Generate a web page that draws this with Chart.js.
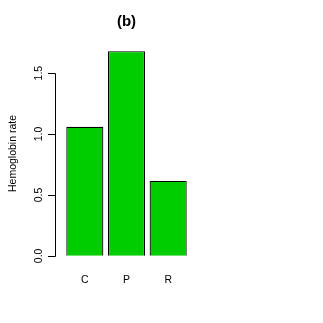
<!DOCTYPE html>
<html>
<head>
    <title>Hemoglobin rate (b)</title>
    <script src="https://cdn.jsdelivr.net/npm/chart.js@4/dist/chart.umd.min.js"></script>
    <style>
        html, body { margin: 0; padding: 0; background: #fff; }
        #wrap { width: 323px; height: 323px; }
    </style>
</head>
<body>
    <div id="wrap"><canvas id="hbChart" width="323" height="323"></canvas></div>

    <script>
        const groups = ['C', 'P', 'R'];
        const hbRate = [1.06, 1.68, 0.615];
        const yTicks = [0, 0.5, 1.0, 1.5];

        // R style y axis: line + ticks drawn a few px left of the plot region
        const rAxis = {
            id: 'rAxis',
            afterDraw(chart) {
                const y = chart.scales.y;
                const ctx = chart.ctx;
                const x = chart.chartArea.left - 9;
                ctx.save();
                ctx.strokeStyle = '#000';
                ctx.lineWidth = 1;
                ctx.beginPath();
                ctx.moveTo(x + 0.5, Math.round(y.getPixelForValue(yTicks[0])) + 0.5);
                ctx.lineTo(x + 0.5, Math.round(y.getPixelForValue(yTicks[yTicks.length - 1])) + 0.5);
                yTicks.forEach(v => {
                    const py = Math.round(y.getPixelForValue(v)) + 0.5;
                    ctx.moveTo(x + 0.5, py);
                    ctx.lineTo(x - 7, py);
                });
                ctx.stroke();
                ctx.restore();
            }
        };

        new Chart(document.getElementById('hbChart'), {
            type: 'bar',
            data: {
                labels: groups,
                datasets: [{
                    data: hbRate,
                    backgroundColor: '#00cd00',
                    borderColor: '#000',
                    borderWidth: 1.2,
                    barPercentage: 0.89,
                    categoryPercentage: 1.0
                }]
            },
            options: {
                responsive: false,
                animation: false,
                layout: { padding: { left: 0, right: 134, top: 0, bottom: 0 } },
                plugins: {
                    legend: { display: false },
                    tooltip: { enabled: false },
                    title: {
                        display: true,
                        text: '(b)',
                        fullSize: false,
                        color: '#000',
                        font: { family: 'Liberation Sans', size: 15, weight: 'bold' },
                        padding: { top: 13, bottom: 12 }
                    }
                },
                scales: {
                    x: {
                        grid: { display: false },
                        border: { display: false },
                        ticks: {
                            color: '#000',
                            padding: 2,
                            font: { family: 'Liberation Sans', size: 10.5 }
                        },
                        afterFit: s => { s.height = 59; }
                    },
                    y: {
                        min: -0.067,
                        max: 1.747,
                        bounds: 'data',
                        grid: { display: false, drawTicks: false },
                        border: { display: false },
                        afterBuildTicks: s => { s.ticks = yTicks.map(v => ({ value: v })); },
                        ticks: {
                            color: '#000',
                            minRotation: 90,
                            maxRotation: 90,
                            crossAlign: 'center',
                            padding: 18,
                            font: { family: 'Liberation Sans', size: 10.5 },
                            callback: v => Number(v).toFixed(1)
                        },
                        title: {
                            display: true,
                            text: 'Hemoglobin rate',
                            color: '#000',
                            font: { family: 'Liberation Sans', size: 10.5 },
                            padding: { top: 7, bottom: 0 }
                        },
                        afterFit: s => { s.width = 64; }
                    }
                }
            },
            plugins: [rAxis]
        });
    </script>
</body>
</html>
